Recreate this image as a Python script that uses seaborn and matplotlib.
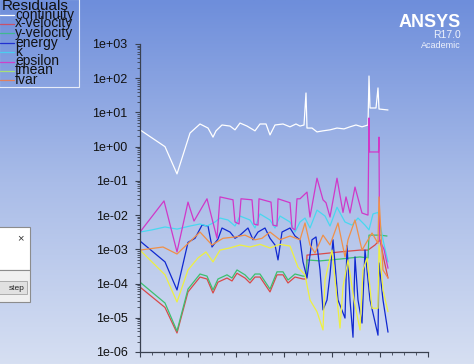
import numpy as np
import pandas as pd
import seaborn as sns
import matplotlib.pyplot as plt
from matplotlib.colors import LinearSegmentedColormap
from matplotlib.lines import Line2D
from matplotlib.patches import Rectangle
from matplotlib.ticker import LogLocator, FuncFormatter, MultipleLocator, NullFormatter

# residual history (iteration, residual)
series_names = ["continuity", "x-velocity", "y-velocity", "energy", "k", "epsilon", "fmean", "fvar"]
series_colors = ["#ffffff", "#d84a4a", "#3cc070", "#1028d0", "#48d8f0", "#d038c8", "#eef040", "#f09048"]
legend_colors = ["#ffffff", "#c8506a", "#40b890", "#2030d0", "#48d0f0", "#d040c8", "#a8e078", "#e08060"]

continuity_it = [0, 25, 37, 50, 60, 68, 73, 76, 82, 90, 95, 100, 107, 115, 120, 126, 130, 135, 143, 150,
                 156, 160, 164, 166, 167, 172, 177, 183, 190, 197, 204, 210, 216, 222, 228, 229, 230, 236,
                 238, 239, 248]
continuity_res = [3.1, 1.0, 0.16, 2.5, 4.6, 3.5, 1.9, 2.9, 4.3, 4.0, 3.1, 4.9, 4.0, 2.9, 4.6, 4.6, 2.2, 4.3,
                  4.6, 3.8, 4.6, 4.0, 4.3, 37, 3.5, 3.5, 2.7, 2.9, 3.1, 3.5, 3.3, 3.8, 4.3, 3.8, 4.3, 116,
                  13.5, 13.5, 52, 12.6, 11.8]

xvel_it = [0, 25, 37, 48, 60, 67, 73, 78, 87, 92, 97, 105, 110, 115, 120, 130, 137, 143, 148, 155, 163, 166,
           167, 180, 200, 220, 228, 235, 240, 244, 248]
xvel_res = [7.9e-5, 2.0e-5, 3.6e-6, 5.7e-5, 1.55e-4, 1.36e-4, 5.3e-5, 1.1e-4, 1.45e-4, 1.19e-4, 2.0e-4,
            1.45e-4, 1.04e-4, 1.55e-4, 1.55e-4, 5.7e-5, 1.8e-4, 1.8e-4, 1.04e-4, 1.55e-4, 1.36e-4, 1.36e-4,
            6.8e-4, 7.3e-4, 8.4e-4, 9.5e-4, 9.5e-4, 1.34e-3, 1.9e-3, 4.9e-4, 1.45e-4]

yvel_it = [0, 25, 37, 48, 60, 67, 73, 78, 87, 92, 97, 105, 110, 115, 120, 130, 137, 143, 148, 155, 163, 166,
           167, 180, 200, 220, 228, 229, 240, 247]
yvel_res = [1.1e-4, 2.7e-5, 4.1e-6, 6.9e-5, 1.9e-4, 1.65e-4, 6.5e-5, 1.36e-4, 1.8e-4, 1.45e-4, 2.5e-4,
            1.8e-4, 1.27e-4, 1.9e-4, 1.9e-4, 6.9e-5, 2.2e-4, 2.2e-4, 1.27e-4, 1.9e-4, 1.65e-4, 1.65e-4,
            4.9e-4, 4.6e-4, 5.2e-4, 6.0e-4, 5.6e-4, 2.6e-3, 2.6e-3, 2.45e-3]

energy_it = [0, 25, 37, 48, 55, 62, 68, 72, 78, 82, 90, 95, 100, 108, 113, 118, 125, 130, 135, 138,
             142, 150, 155, 160, 163, 167, 170, 172, 176, 180, 183, 187, 190, 193, 198, 205, 207, 210, 213,
             215, 218, 222, 225, 230, 238, 239, 243, 248]
energy_res = [1.75e-3, 4.3e-4, 6.5e-5, 1.6e-3, 2.1e-3, 5.1e-3, 4.8e-3, 1.17e-3, 2.0e-3, 4.2e-3,
              3.2e-3, 2.1e-3, 2.6e-3, 4.2e-3, 1.9e-3, 3.2e-3, 4.2e-3, 2.1e-3, 1.34e-3, 4.9e-4,
              3.2e-3, 4.2e-3, 2.45e-3, 1.9e-3, 4.3e-4, 1.45e-4, 6.8e-4, 1.9e-3, 2.3e-3, 2.5e-4,
              1.7e-5, 3.3e-5, 1.8e-4, 1.9e-3, 3.3e-5, 9.8e-6, 1.3e-3, 3.3e-5, 2.7e-6, 6.0e-4,
              3.3e-5, 7.0e-6, 9.5e-4, 3.3e-5, 3.1e-6, 4.0e-4, 3.3e-5, 3.8e-6]

k_it = [0, 12, 25, 37, 50, 60, 67, 75, 80, 88, 95, 100, 110, 115, 120, 130, 135, 140, 150, 155, 160, 165,
        170, 177, 185, 190, 197, 205, 212, 218, 225, 229, 233, 238, 243, 248]
k_res = [3.2e-3, 3.7e-3, 4.5e-3, 3.9e-3, 4.8e-3, 5.5e-3, 4.8e-3, 6.3e-3, 8.2e-3, 7.2e-3, 4.8e-3, 9.4e-3,
         7.2e-3, 4.2e-3, 1.08e-2, 7.2e-3, 4.2e-3, 9.4e-3, 6.3e-3, 3.2e-3, 6.3e-3, 8.2e-3, 4.2e-3, 1.4e-2,
         9.4e-3, 4.8e-3, 1.7e-2, 6.3e-3, 5.1e-3, 8.2e-3, 5.1e-3, 3.7e-3, 1.08e-2, 1.2e-2, 1.9e-3, 4.3e-4]

epsilon_it = [0, 24, 37, 48, 54, 67, 77, 80, 93, 95, 99, 101, 112, 114, 118, 119, 131, 133, 137, 138, 150,
              152, 155, 157, 160, 167, 170, 177, 183, 186, 190, 197, 203, 206, 210, 215, 222, 228, 229,
              229.5, 238.5, 239, 239.5, 244, 248]
epsilon_res = [3.2e-3, 2.6e-2, 8.4e-4, 2.4e-2, 6.7e-3, 3.0e-2, 2.1e-3, 3.4e-2, 2.8e-2, 6.3e-3, 5.5e-3,
               3.0e-2, 2.8e-2, 5.5e-3, 5.1e-3, 3.0e-2, 2.4e-2, 5.1e-3, 4.8e-3, 3.0e-2, 2.3e-2, 4.2e-3,
               3.7e-3, 3.0e-2, 3.0e-2, 4.7e-2, 8.8e-3, 0.12, 2.8e-2, 2.3e-2, 8.8e-3, 0.12, 1.2e-2, 3.4e-2,
               1.15e-2, 6.6e-2, 1.15e-2, 1.0e-2, 6.9, 0.70, 0.70, 1.9, 1.9e-3, 1.0e-3, 2.8e-4]

fmean_it = [0, 25, 37, 48, 58, 66, 73, 80, 90, 100, 110, 120, 130, 140, 150, 158, 165, 170, 177, 183, 185,
            192, 200, 203, 208, 214, 220, 223, 227, 232, 238, 239, 243, 248]
fmean_res = [9.5e-4, 1.8e-4, 2.9e-5, 2.5e-4, 5.6e-4, 8.4e-4, 4.3e-4, 9.5e-4, 1.1e-3, 1.34e-3, 1.17e-3,
             1.4e-3, 1.1e-3, 1.4e-3, 1.25e-3, 3.0e-4, 1.8e-4, 3.3e-5, 1.5e-5, 4.4e-6, 1.27e-4, 9.5e-4,
             5.0e-6, 8.0e-5, 4.9e-4, 3.3e-5, 4.4e-6, 2.5e-4, 5.6e-4, 1.9e-5, 1.9e-5, 1.34e-3, 6.5e-5,
             1.5e-5]

fvar_it = [0, 23, 37, 60, 72, 83, 95, 105, 115, 122, 130, 140, 150, 160, 165, 170, 175, 183, 190, 198, 205,
           208, 215, 222, 232, 238, 239, 243, 248]
fvar_res = [9.5e-4, 1.17e-3, 7.3e-4, 3.2e-3, 1.34e-3, 2.1e-3, 2.3e-3, 2.6e-3, 1.9e-3, 2.1e-3, 3.2e-3,
            1.9e-3, 2.45e-3, 1.9e-3, 5.9e-3, 1.34e-3, 7.8e-4, 2.6e-3, 1.34e-3, 5.9e-3, 6.0e-4, 1.9e-3,
            7.2e-3, 9.5e-4, 3.0e-3, 1.5e-3, 3.4e-2, 2.5e-4, 1.45e-4]

y_ticks = [1e-6, 1e-5, 1e-4, 1e-3, 1e-2, 1e-1, 1e0, 1e1, 1e2, 1e3]

iters = [continuity_it, xvel_it, yvel_it, energy_it, k_it, epsilon_it, fmean_it, fvar_it]
resids = [continuity_res, xvel_res, yvel_res, energy_res, k_res, epsilon_res, fmean_res, fvar_res]
frames = []
for name, it, res in zip(series_names, iters, resids):
    frames.append(pd.DataFrame({"iteration": it, "residual": res, "series": name}))
df = pd.concat(frames, ignore_index=True)

sns.set_theme(style="ticks")
plt.rcParams["font.family"] = ["Liberation Sans", "DejaVu Sans"]

W, H = 474, 364
fig = plt.figure(figsize=(W / 100, H / 100), dpi=100)

# blue gradient backdrop, also used as a pixel canvas for the decorations
bg = fig.add_axes([0, 0, 1, 1], zorder=0)
grad = np.linspace(0, 1, 256).reshape(-1, 1)
cmap = LinearSegmentedColormap.from_list("fluent", ["#6e8edb", "#a9bce8", "#d6dff2"])
bg.imshow(grad, aspect="auto", cmap=cmap, extent=[0, W, H, 0])
bg.set_xlim(0, W)
bg.set_ylim(H, 0)
bg.axis("off")

ax = fig.add_axes([140 / W, (H - 352) / H, 288 / W, 308 / H], zorder=1)
ax.set_facecolor("none")
sns.lineplot(data=df, x="iteration", y="residual", hue="series", hue_order=series_names,
             palette=dict(zip(series_names, series_colors)), estimator=None, sort=False,
             linewidth=0.9, legend=False, ax=ax)
ax.set_yscale("log")
ax.set_ylim(1e-6, 1e3)
ax.set_xlim(0, 288)
ax.set_yticks(y_ticks)
ax.yaxis.set_major_formatter(FuncFormatter(lambda v, _: f"{v:.0e}"))
ax.yaxis.set_minor_locator(LogLocator(base=10, subs=(2, 3, 4, 5, 6, 7, 8, 9)))
ax.yaxis.set_minor_formatter(NullFormatter())
ax.xaxis.set_major_locator(MultipleLocator(48))
ax.xaxis.set_minor_locator(MultipleLocator(12))
ax.set_xticklabels([])
ax.set_xlabel("")
ax.set_ylabel("")
for side in ["top", "right"]:
    ax.spines[side].set_visible(False)
for side in ["left", "bottom"]:
    ax.spines[side].set_color("#3a4150")
    ax.spines[side].set_linewidth(0.9)
ax.tick_params(which="major", length=3.5, width=0.8, color="#3a4150", labelsize=9,
               labelcolor="#111111", pad=5.5)
ax.tick_params(which="minor", length=2, width=0.6, color="#3a4150")

# legend box, drawn the way the solver does it (tightly packed rows)
bg.add_patch(Rectangle((-1, -1), 80, 88, fill=False, ec="#e6ecf8", lw=0.8))
bg.text(2, 10, "Residuals", fontsize=11, va="baseline", color="#111111")
legend_y = [15, 24, 33, 43, 52, 62, 71, 80]
for name, col, yy in zip(series_names, legend_colors, legend_y):
    bg.add_line(Line2D([0, 14], [yy, yy], color=col, lw=0.9))
    bg.text(15, yy + 3.5, name, fontsize=10, va="baseline", color="#111111")

# ANSYS badge
bg.text(461, 27, "ANSYS", ha="right", va="baseline", fontsize=13, fontweight="bold",
        color="white", family=["Liberation Sans Narrow", "Liberation Sans"])
bg.text(461, 38, "R17.0", ha="right", va="baseline", fontsize=7.5, color="#eef2fb")
bg.text(461, 48.5, "Academic", ha="right", va="baseline", fontsize=6.5, color="#eef2fb")

# piece of a dialog window peeking in at the left
bg.add_patch(Rectangle((-2, 227), 32, 43, fc="white", ec="#8c8c8c", lw=0.8))
bg.add_patch(Rectangle((-2, 270), 32, 32, fc="#f0f0f0", ec="#8c8c8c", lw=0.8))
bg.text(20, 238, "\u00d7", ha="center", va="center", fontsize=8, color="#333333")
bg.add_patch(Rectangle((-2, 281), 29, 13, fc="#e1e1e1", ec="#adadad", lw=0.7))
bg.text(25, 288, "step", ha="right", va="center", fontsize=6, color="#222222")

fig.savefig("out.png", dpi=100)
